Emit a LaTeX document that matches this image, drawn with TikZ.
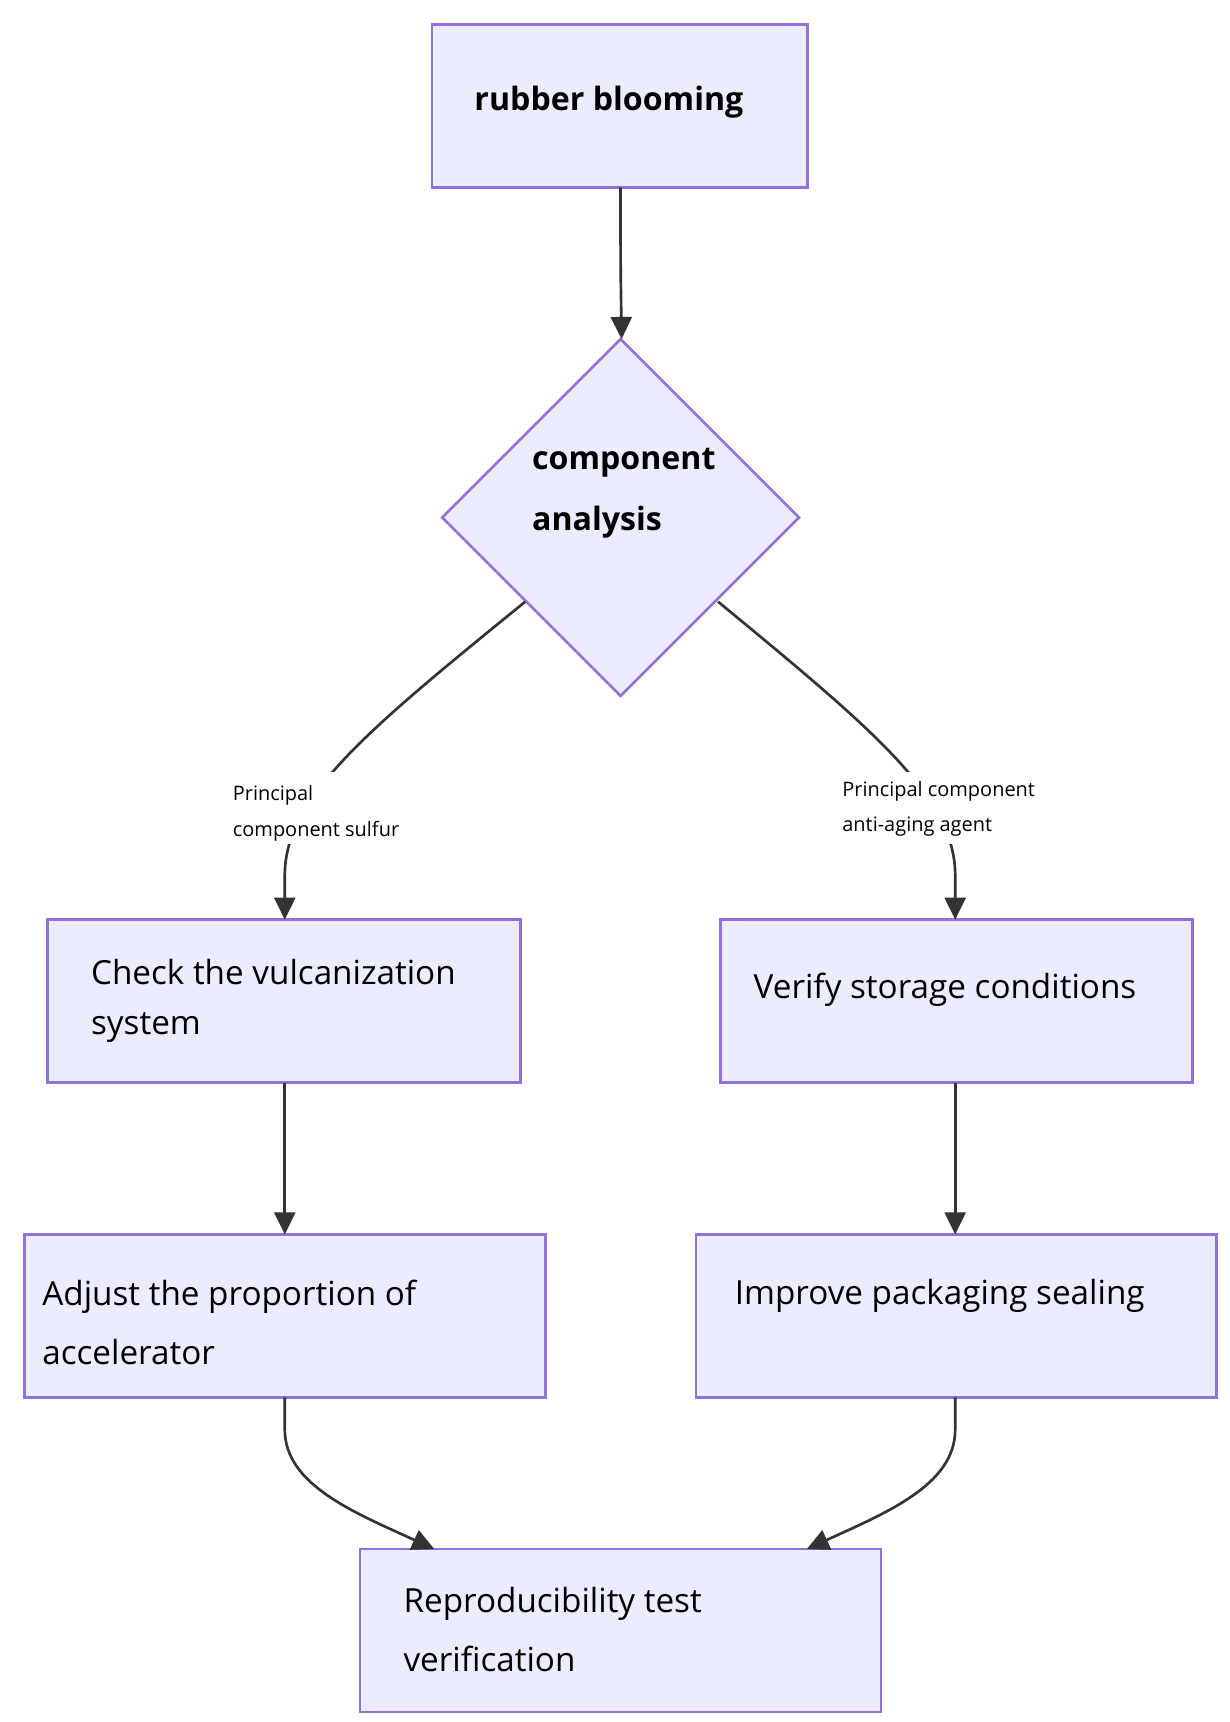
\documentclass[tikz,border=0pt]{standalone}
\usepackage{fontspec}
\setmainfont{Open Sans}
\usetikzlibrary{arrows.meta}
\definecolor{fillc}{HTML}{ECECFF}
\definecolor{linec}{HTML}{9370DB}
\definecolor{edgec}{HTML}{333333}
\begin{document}
\begin{tikzpicture}[x=1pt,y=-1pt,
  box/.style={draw=linec,fill=fillc,line width=2.4pt},
  txt/.style={anchor=west,font=\fontsize{30}{36}\selectfont,inner sep=0},
  btxt/.style={anchor=west,font=\bfseries\fontsize{29}{36}\selectfont,inner sep=0},
  lbl/.style={anchor=west,font=\fontsize{18}{22}\selectfont,inner sep=0},
  edge/.style={draw=edgec,line width=2.4pt,-{Triangle[length=20pt,width=19pt]}}]
\useasboundingbox (0,0) rectangle (1110,1554);
% boxes
\draw[box] (390,22) rectangle (729,169); \coordinate (rbT) at (560,169);
\node[btxt] (rb) at (428,92) {rubber blooming};
\draw[box] (560,306) -- (721,467) -- (560,628) -- (399,467) -- cycle;
\coordinate (dT) at (561,306); \coordinate (dL) at (474,543); \coordinate (dR) at (648,543);
\node[btxt] (ca1) at (480,418) {component};
\node[btxt] (ca2) at (480,471) {analysis};
\draw[box] (43,830) rectangle (470,977);
\node[txt] (c1) at (82,877) {Check the vulcanization};
\node[txt] (c2) at (82,927) {system};
\draw[box] (650,830) rectangle (1076,977);
\node[txt] (v1) at (680,893) {Verify storage conditions};
\draw[box] (22,1114) rectangle (492,1261);
\node[txt] (a1) at (38,1170) {Adjust the proportion of};
\node[txt] (a2) at (38,1220) {accelerator};
\draw[box] (628,1114) rectangle (1098,1261);
\node[txt] (i1) at (663,1169) {Improve packaging sealing};
\draw[box] (325,1398) rectangle (795,1545);
\node[txt] (r1) at (364,1447) {Reproducibility test};
\node[txt] (r2) at (364,1497) {verification};
\coordinate (cT) at (257,830); \coordinate (cB) at (257,977);
\coordinate (vT) at (862,830); \coordinate (vB) at (862,977);
\coordinate (aT) at (257,1114); \coordinate (aB) at (257,1261);
\coordinate (iT) at (862,1114); \coordinate (iB) at (862,1261);
\coordinate (rL) at (392,1398); \coordinate (rR) at (728,1398);
% edges
\draw[edge] (rbT) .. controls (560,240) .. (dT);
\draw[edge] (dL) .. controls (330,660) and (257,720) .. (257,790) -- (cT);
\draw[edge] (dR) .. controls (790,660) and (862,720) .. (862,790) -- (vT);
\draw[edge] (cB) -- (aT);
\draw[edge] (vB) -- (iT);
\draw[edge] (aB) -- (257,1290) .. controls (257,1340) and (320,1365) .. (rL);
\draw[edge] (iB) -- (862,1290) .. controls (862,1340) and (800,1365) .. (rR);
% labels
\fill[white] (148,697) rectangle (365,762);
\node[lbl] (l1a) at (210,718) {Principal};
\node[lbl] (l1b) at (210,750) {component sulfur};
\fill[white] (733,697) rectangle (993,762);
\node[lbl] (l2a) at (760,714) {Principal component};
\node[lbl] (l2b) at (760,746) {anti-aging agent};
\end{tikzpicture}
\end{document}
